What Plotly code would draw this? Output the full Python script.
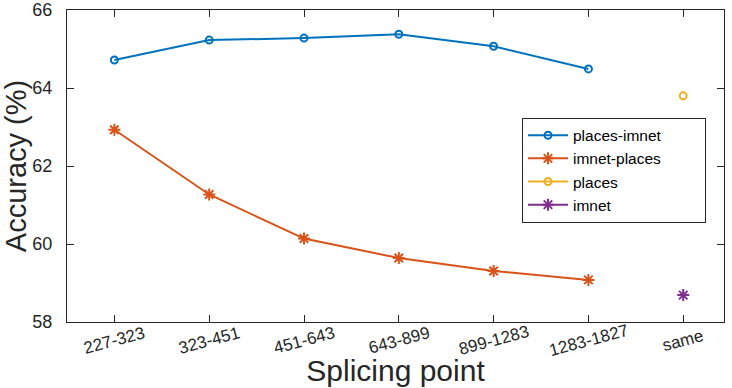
import plotly.graph_objects as go

categories = ["227-323", "323-451", "451-643", "643-899", "899-1283", "1283-1827", "same"]
places_imnet = [64.72, 65.23, 65.28, 65.38, 65.07, 64.49]
imnet_places = [62.93, 61.27, 60.14, 59.64, 59.31, 59.08]
places = [63.80]
imnet = [58.69]
y_ticks = [58, 60, 62, 64, 66]

xs = list(range(1, len(categories) + 1))
font = "Liberation Sans, Arial, sans-serif"
dark = "#262626"
pad = "\u00a0" * 9

fig = go.Figure()
fig.add_trace(go.Scatter(x=xs[:6], y=places_imnet, name="places-imnet" + pad, mode="lines+markers",
                         line=dict(color="#0072BD", width=2),
                         marker=dict(symbol="circle-open", size=7, line=dict(width=2), color="#0072BD")))
fig.add_trace(go.Scatter(x=xs[:6], y=imnet_places, name="imnet-places", mode="lines+markers",
                         line=dict(color="#D95319", width=2),
                         marker=dict(symbol="asterisk-open", size=10, line=dict(width=2, color="#D95319"), color="#D95319")))
fig.add_trace(go.Scatter(x=[xs[6]], y=places, name="places", mode="lines+markers",
                         line=dict(color="#EDB120", width=2),
                         marker=dict(symbol="circle-open", size=7, line=dict(width=2), color="#EDB120")))
fig.add_trace(go.Scatter(x=[xs[6]], y=imnet, name="imnet", mode="lines+markers",
                         line=dict(color="#7E2F8E", width=2),
                         marker=dict(symbol="asterisk-open", size=10, line=dict(width=2, color="#7E2F8E"), color="#7E2F8E")))

# rotated, centred category labels under the ticks
for xv, lab in zip(xs, categories):
    fig.add_annotation(x=xv, y=-0.058, xref="x", yref="paper", text=lab, showarrow=False,
                       textangle=-15, xanchor="center", yanchor="middle",
                       font=dict(size=17, family=font, color=dark))

fig.update_layout(
    width=732, height=388,
    margin=dict(l=67, r=8, t=10, b=66, autoexpand=False),
    paper_bgcolor="white", plot_bgcolor="white",
    font=dict(family=font, color=dark),
    legend=dict(x=0.6925, y=0.655, xanchor="left", yanchor="top",
                bordercolor=dark, borderwidth=1, bgcolor="white",
                font=dict(size=15.5, family=font, color="#000"), tracegroupgap=0,
                itemwidth=40),
    xaxis=dict(range=[0.5, 7.43], tickvals=xs, showticklabels=False, automargin=False,
               showline=True, linecolor=dark, linewidth=1, mirror="ticks",
               ticks="inside", ticklen=7, tickcolor=dark, showgrid=False, zeroline=False,
               title=dict(text="Splicing point", font=dict(size=30, family=font), standoff=37)),
    yaxis=dict(range=[58, 66.001], tickvals=y_ticks, automargin=False,
               showline=True, linecolor=dark, linewidth=1, mirror="ticks",
               ticks="inside", ticklen=7, tickcolor=dark, showgrid=False, zeroline=False,
               tickfont=dict(size=18, family=font), ticklabelstandoff=10, ticklabeloverflow="allow",
               title=dict(text="Accuracy (%)", font=dict(size=29, family=font), standoff=4)),
)

fig.write_html("out.html", config={"displayModeBar": False},
               post_script="document.body.style.margin='0';document.body.style.padding='0';")
